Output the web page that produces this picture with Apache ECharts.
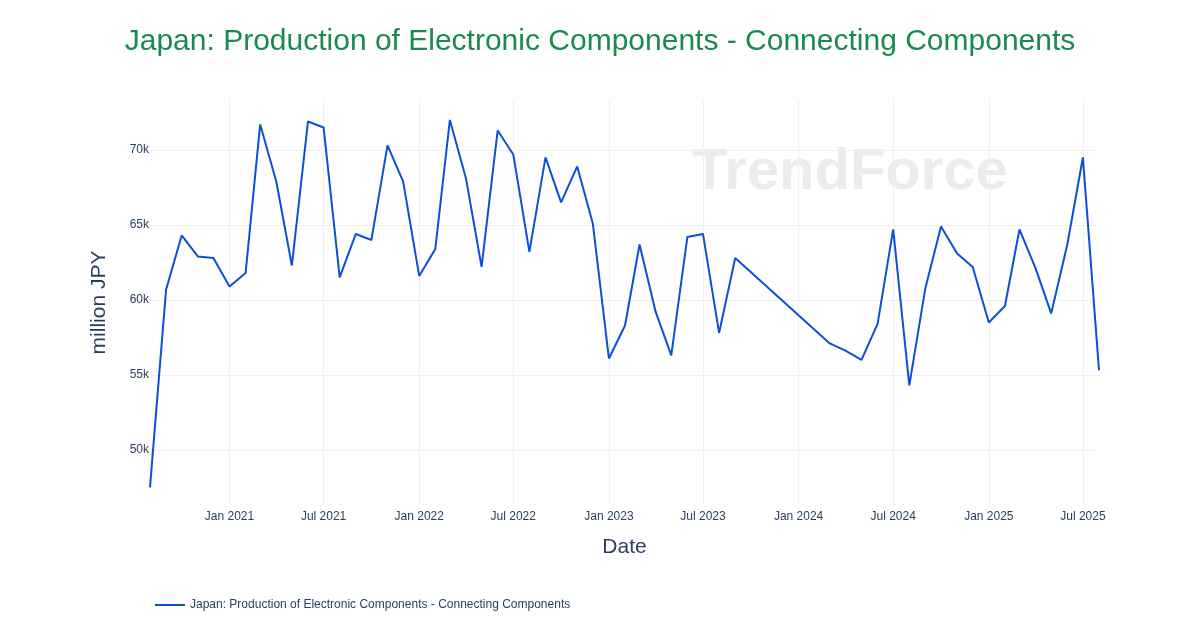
<!DOCTYPE html><html><head><meta charset="utf-8"><script src="https://cdn.jsdelivr.net/npm/echarts@6/dist/echarts.min.js"></script>
<style>html,body{margin:0;padding:0;background:#fff}#c{width:1200px;height:630px}</style></head><body><div id="c"></div><script>
const dates=["2020-08","2020-09","2020-10","2020-11","2020-12","2021-01","2021-02","2021-03","2021-04","2021-05","2021-06","2021-07","2021-08","2021-09","2021-10","2021-11","2021-12","2022-01","2022-02","2022-03","2022-04","2022-05","2022-06","2022-07","2022-08","2022-09","2022-10","2022-11","2022-12","2023-01","2023-02","2023-03","2023-04","2023-05","2023-06","2023-07","2023-08","2023-09","2024-03","2024-04","2024-05","2024-06","2024-07","2024-08","2024-09","2024-10","2024-11","2024-12","2025-01","2025-02","2025-03","2025-04","2025-05","2025-06","2025-07","2025-08"];
const values=[47.5,60.7,64.3,62.9,62.8,60.9,61.8,71.7,67.9,62.3,71.9,71.5,61.5,64.4,64.0,70.3,67.9,61.6,63.4,72.0,68.1,62.2,71.3,69.7,63.2,69.5,66.5,68.9,65.1,56.1,58.3,63.7,59.2,56.3,64.2,64.4,57.8,62.8,57.1,56.6,56.0,58.4,64.7,54.3,60.8,64.9,63.1,62.2,58.5,59.6,64.7,62.1,59.1,63.7,69.5,55.3];
const yTicks=[50,55,60,65,70];
const xTicks=["2021-01","2021-07","2022-01","2022-07","2023-01","2023-07","2024-01","2024-07","2025-01","2025-07"];
const seriesName="Japan: Production of Electronic Components - Connecting Components";
const M=["Jan","Feb","Mar","Apr","May","Jun","Jul","Aug","Sep","Oct","Nov","Dec"];
const t=s=>{const[a,b]=s.split("-");return Date.UTC(+a,+b-1,1);};
const F='Liberation Sans, Arial, sans-serif';
const ch=echarts.init(document.getElementById('c'));
ch.setOption({
 textStyle:{fontFamily:F},
 title:{text:"Japan: Production of Electronic Components - Connecting Components",left:'center',top:22,textStyle:{color:'#1a8a4e',fontSize:30,fontWeight:'normal',fontFamily:F}},
 graphic:[{type:'text',left:692,top:144,z:0,style:{text:'TrendForce',fontSize:58,fontWeight:'bold',fill:'rgba(200,200,200,0.35)',fontFamily:F}}],
 grid:{left:150,right:101,top:100,bottom:125},
 legend:{left:150,top:594,itemWidth:30,itemHeight:2,icon:'rect',textStyle:{color:'#2a3f5f',fontSize:12,fontFamily:F}},
 xAxis:{type:'value',min:t("2020-08"),max:t("2025-08"),name:'Date',nameLocation:'middle',nameGap:32,nameTextStyle:{fontSize:21,color:'#2a3f5f',fontFamily:F},
  axisLine:{show:false},axisTick:{show:false,customValues:xTicks.map(t)},
  splitLine:{show:true,lineStyle:{color:'#eef0f4'}},
  axisLabel:{customValues:xTicks.map(t),color:'#2a3f5f',fontSize:12,margin:6,fontFamily:F,formatter:v=>{const d=new Date(v);return M[d.getUTCMonth()]+" "+d.getUTCFullYear();}}},
 yAxis:{type:'value',min:46.33,max:73.33,name:'million JPY',nameLocation:'middle',nameGap:40,nameTextStyle:{fontSize:21,color:'#2a3f5f',fontFamily:F},
  axisLine:{show:false},axisTick:{show:false,customValues:yTicks},
  splitLine:{show:true,lineStyle:{color:'#eef0f4'}},
  axisLabel:{customValues:yTicks,color:'#2a3f5f',fontSize:12,margin:1,fontFamily:F,formatter:v=>v+'k'}},
 series:[{name:seriesName,type:'line',showSymbol:false,data:dates.map((d,i)=>[t(d),values[i]]),lineStyle:{color:'#0a50d8',width:2},itemStyle:{color:'#0a50d8'}}]
});
</script></body></html>
